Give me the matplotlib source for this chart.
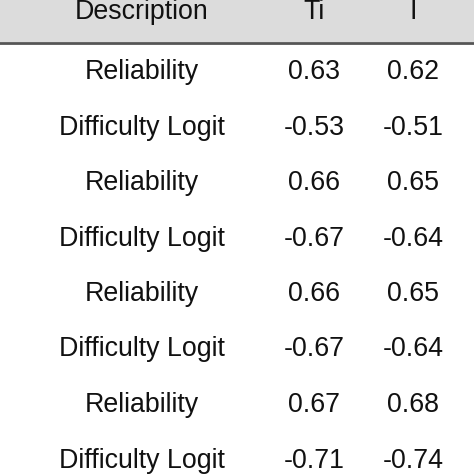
import matplotlib
matplotlib.use("Agg")
import matplotlib.pyplot as plt

headers = ["Description", "Ti", "I"]
descriptions = ["Reliability", "Difficulty Logit"] * 4
ti_values = ["0.63", "-0.53", "0.66", "-0.67", "0.66", "-0.67", "0.67", "-0.71"]
i_values = ["0.62", "-0.51", "0.65", "-0.64", "0.65", "-0.64", "0.68", "-0.74"]

W = H = 474
fig = plt.figure(figsize=(4.74, 4.74), dpi=100)
ax = fig.add_axes([0, 0, 1, 1])
ax.set_xlim(0, W); ax.set_ylim(H, 0); ax.axis("off")
ax.add_patch(plt.Rectangle((0, 0), W, 42, color="#dcdcdc", lw=0))
ax.plot([0, W], [43, 43], color="#555555", lw=2)
font = dict(family=["Liberation Sans", "DejaVu Sans"], fontsize=19.3, ha="center", va="center", color="#111111")
cols = [142, 314, 413]
for x, h in zip(cols, headers):
    ax.text(x, 12, h, **font)
for k in range(len(descriptions)):
    y = 72 + k * 55.5
    ax.text(cols[0], y, descriptions[k], **font)
    ax.text(cols[1], y, ti_values[k], **font)
    ax.text(cols[2], y, i_values[k], **font)
fig.savefig("out.png", dpi=100)
